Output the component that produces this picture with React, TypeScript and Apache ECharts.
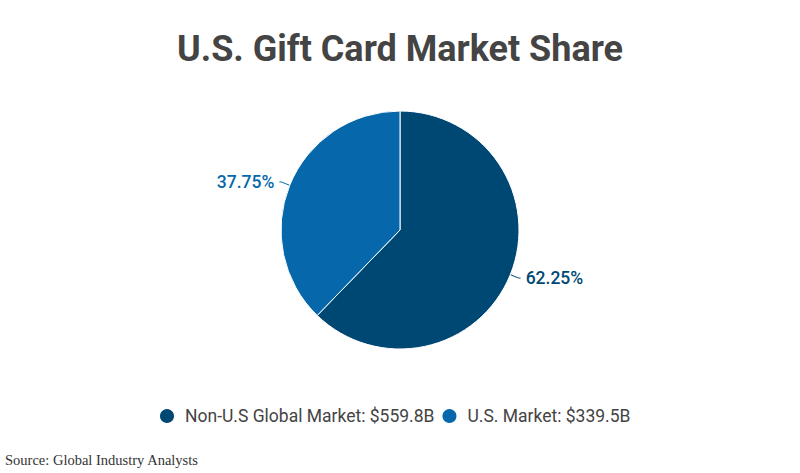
import React, { useEffect, useRef } from "react";
import * as echarts from "echarts";

const categories = ["Non-U.S Global Market: $559.8B", "U.S. Market: $339.5B"];
const shares = [62.25, 37.75];
const colors = ["#004874", "#0668ab"];

export default function App() {
  const ref = useRef<HTMLDivElement>(null);
  useEffect(() => {
    const chart = echarts.init(ref.current!, null, { renderer: "svg" });
    chart.setOption({
      animation: false,
      backgroundColor: "#ffffff",
      title: {
        text: "U.S. Gift Card Market Share",
        left: "center",
        top: 26,
        textStyle: { fontFamily: "Roboto", fontWeight: "bold", fontSize: 36, color: "#444444" },
      },
      legend: {
        top: 402,
        left: 153,
        icon: "circle",
        itemWidth: 26,
        itemHeight: 16,
        itemGap: 6,
        textStyle: { fontFamily: "Roboto", fontSize: 17.5, color: "#444444" },
        data: categories,
      },
      graphic: [
        {
          type: "text",
          left: 5,
          top: 452,
          style: { text: "Source: Global Industry Analysts", font: "14.5px 'Liberation Serif', serif", fill: "#333333" },
        },
      ],
      series: [
        {
          type: "pie",
          center: [400, 230],
          radius: 119,
          startAngle: 90,
          clockwise: true,
          itemStyle: { borderColor: "#ffffff", borderWidth: 1 },
          label: {
            show: true,
            formatter: (p: any) => p.value.toFixed(2) + "%",
            fontFamily: "Roboto",
            fontSize: 17.5,
            fontWeight: 500,
            color: "inherit",
          },
          labelLine: { show: true, length: 9, length2: 2, lineStyle: { width: 1 } },
          emphasis: { disabled: true },
          data: categories.map((c, i) => ({
            name: c,
            value: shares[i],
            itemStyle: { color: colors[i] },
            label: { color: colors[i] },
          })),
        },
      ],
    });
    return () => chart.dispose();
  }, []);
  return <div ref={ref} style={{ position: "fixed", left: 0, top: 0, width: 800, height: 473 }} />;
}
